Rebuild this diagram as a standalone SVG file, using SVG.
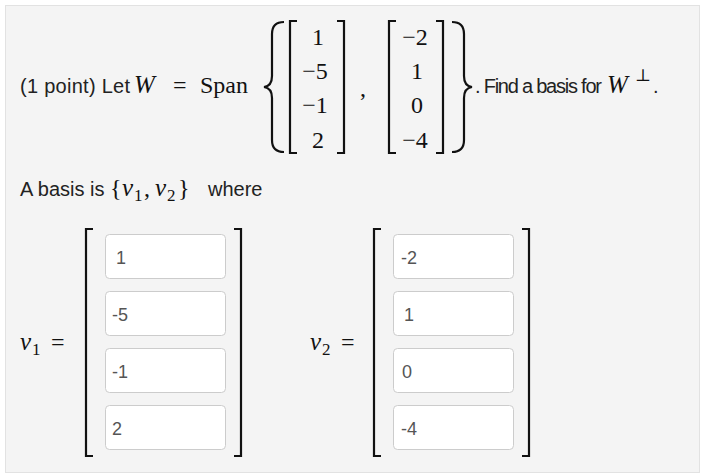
<svg xmlns="http://www.w3.org/2000/svg" width="701" height="474" viewBox="0 0 701 474">
<style>
.t{font-family:"Liberation Sans",Arial,sans-serif;font-size:20px;fill:#222}
.m{font-family:"Liberation Serif","DejaVu Serif",serif;font-size:24px;fill:#111}
.mi{font-family:"Liberation Serif","DejaVu Serif",serif;font-style:italic;font-size:25px;fill:#111}
.n{font-family:"Liberation Serif","DejaVu Serif",serif;font-size:24px;fill:#111;text-anchor:middle}
.s{font-family:"Liberation Serif","DejaVu Serif",serif;font-size:17px;fill:#111}
.br{fill:none;stroke:#111;stroke-width:2.2}
.box{fill:#fff;stroke:#ccc;stroke-width:1}
.in{font-family:"Liberation Sans",Arial,sans-serif;font-size:18px;fill:#555}
</style>
<rect x="0" y="0" width="701" height="474" fill="#fff"/>
<rect x="5.5" y="5.5" width="694" height="467" fill="#f4f4f4" stroke="#e2e2e2"/>
<text x="20" y="93" class="t" textLength="110">(1 point) Let</text>
<text x="134" y="93" class="mi">W</text>
<text x="173" y="93" class="m">=</text>
<text x="200" y="93" class="m">Span</text>
<path class="br" d="M284,22 Q272,22 272,34 L272,76 Q272,86 264,87 Q272,88 272,98 L272,140 Q272,152 284,152"/>
<path class="br" d="M297,21 L290,21 L290,153 L297,153 M337,21 L344,21 L344,153 L337,153"/>
<text x="318" y="45" class="n">1</text><text x="315" y="79" class="n">−5</text><text x="315" y="113" class="n">−1</text><text x="318" y="148" class="n">2</text>
<text x="360" y="96" class="m">,</text>
<path class="br" d="M396,21 L389,21 L389,153 L396,153 M436,21 L443,21 L443,153 L436,153"/>
<text x="415" y="45" class="n">−2</text><text x="417" y="79" class="n">1</text><text x="417" y="113" class="n">0</text><text x="415" y="148" class="n">−4</text>
<path class="br" d="M452,22 Q464,22 464,34 L464,76 Q464,86 472,87 Q464,88 464,98 L464,140 Q464,152 452,152"/>
<text x="475" y="93" class="t" textLength="127">. Find a basis for</text>
<text x="607" y="93" class="mi">W</text>
<text x="635" y="81" class="s">⊥</text>
<text x="653" y="93" class="t">.</text>
<text x="20" y="196" class="t">A basis is</text>
<text x="110" y="196" class="m">{</text>
<text x="122" y="196" class="mi" font-size="23">v</text><text x="134" y="201" class="s">1</text>
<text x="144" y="196" class="m">,</text>
<text x="155" y="196" class="mi" font-size="23">v</text><text x="167" y="201" class="s">2</text>
<text x="178" y="196" class="m">}</text>
<text x="208" y="196" class="t">where</text>
<text x="20" y="350" class="mi" font-size="23">v</text><text x="32" y="355" class="s">1</text>
<text x="51" y="350" class="m">=</text>
<path class="br" d="M93,229 L86,229 L86,456 L93,456 M234,229 L241,229 L241,456 L234,456"/>
<g>
<rect class="box" x="105.5" y="234.5" width="120" height="44" rx="4"/><text class="in" x="116" y="264">1</text>
<rect class="box" x="105.5" y="291.5" width="120" height="44" rx="4"/><text class="in" x="112" y="321">-5</text>
<rect class="box" x="105.5" y="348.5" width="120" height="44" rx="4"/><text class="in" x="112" y="378">-1</text>
<rect class="box" x="105.5" y="405.5" width="120" height="44" rx="4"/><text class="in" x="112" y="435">2</text>
</g>
<text x="310" y="350" class="mi" font-size="23">v</text><text x="322" y="355" class="s">2</text>
<text x="341" y="350" class="m">=</text>
<path class="br" d="M381,229 L374,229 L374,456 L381,456 M522,229 L529,229 L529,456 L522,456"/>
<g>
<rect class="box" x="393.5" y="234.5" width="120" height="44" rx="4"/><text class="in" x="401" y="264">-2</text>
<rect class="box" x="393.5" y="291.5" width="120" height="44" rx="4"/><text class="in" x="404" y="321">1</text>
<rect class="box" x="393.5" y="348.5" width="120" height="44" rx="4"/><text class="in" x="402" y="378">0</text>
<rect class="box" x="393.5" y="405.5" width="120" height="44" rx="4"/><text class="in" x="401" y="435">-4</text>
</g>
</svg>
